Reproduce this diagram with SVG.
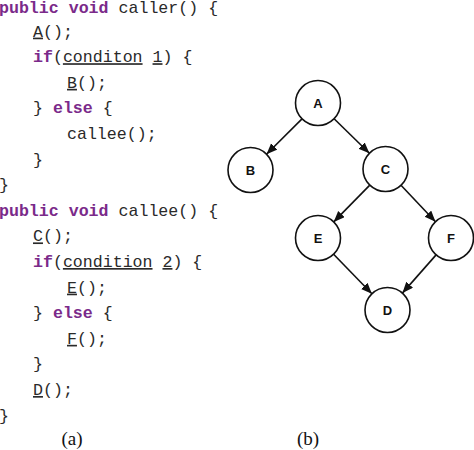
<svg xmlns="http://www.w3.org/2000/svg" width="474" height="450" viewBox="0 0 474 450">
<defs>
<style>
.code{font-family:"Liberation Mono","Courier New",monospace;font-size:16.6px;fill:#2a2a2a;}
.kw{fill:#7b2a8a;font-weight:bold;}
.u{text-decoration:underline;}
.cap{font-family:"Liberation Serif","Times New Roman",serif;font-size:19px;fill:#111;}
.node circle{fill:#fff;stroke:#111;stroke-width:1.6;}
.node text{font-family:"Liberation Sans",Arial,sans-serif;font-weight:bold;font-size:13px;fill:#111;text-anchor:middle;}
.edge{stroke:#111;stroke-width:1.6;fill:none;marker-end:url(#arr);}
</style>
<marker id="arr" markerUnits="userSpaceOnUse" markerWidth="12" markerHeight="10" refX="11" refY="4.5" orient="auto">
<path d="M0,0 L11,4.5 L0,9 Z" fill="#111"/>
</marker>
</defs>
<g id="code">
<text class="code" x="-1" y="13"><tspan class="kw">public void</tspan> caller() {</text>
<text class="code" x="33" y="36.6"><tspan class="u">A</tspan>();</text>
<text class="code" x="33" y="62.2"><tspan class="kw">if</tspan>(<tspan class="u">conditon</tspan> <tspan class="u">1</tspan>) {</text>
<text class="code" x="67" y="87.8"><tspan class="u">B</tspan>();</text>
<text class="code" x="33" y="113.4">} <tspan class="kw">else</tspan> {</text>
<text class="code" x="67" y="139">callee();</text>
<text class="code" x="33" y="164.6">}</text>
<text class="code" x="-1" y="190.2">}</text>
<text class="code" x="-1" y="215.8"><tspan class="kw">public void</tspan> callee() {</text>
<text class="code" x="33" y="241.4"><tspan class="u">C</tspan>();</text>
<text class="code" x="33" y="267"><tspan class="kw">if</tspan>(<tspan class="u">condition</tspan> <tspan class="u">2</tspan>) {</text>
<text class="code" x="67" y="292.6"><tspan class="u">E</tspan>();</text>
<text class="code" x="33" y="318.2">} <tspan class="kw">else</tspan> {</text>
<text class="code" x="67" y="343.8"><tspan class="u">F</tspan>();</text>
<text class="code" x="33" y="369.4">}</text>
<text class="code" x="33" y="395"><tspan class="u">D</tspan>();</text>
<text class="code" x="-1" y="420.6">}</text>
</g>
<g id="connectors">
<line class="edge" x1="302" y1="118.9" x2="266.5" y2="154.2"/>
<line class="edge" x1="334.1" y1="118.7" x2="369.4" y2="153.3"/>
<line class="edge" x1="369.8" y1="185.1" x2="333.7" y2="221.9"/>
<line class="edge" x1="401" y1="185.3" x2="435.5" y2="221.7"/>
<line class="edge" x1="333.6" y1="254.2" x2="371.9" y2="293.8"/>
<line class="edge" x1="436.1" y1="254.9" x2="402.4" y2="293.1"/>
</g>
<g id="node-A" class="node"><circle cx="318" cy="103" r="22.5"/><text x="318" y="107.5">A</text></g>
<g id="node-B" class="node"><circle cx="250.5" cy="170" r="22.5"/><text x="250.5" y="174.5">B</text></g>
<g id="node-C" class="node"><circle cx="385.5" cy="169" r="22.5"/><text x="385.5" y="173.5">C</text></g>
<g id="node-E" class="node"><circle cx="318" cy="238" r="22.5"/><text x="318" y="242.5">E</text></g>
<g id="node-F" class="node"><circle cx="451" cy="238" r="22.5"/><text x="451" y="242.5">F</text></g>
<g id="node-D" class="node"><circle cx="387.5" cy="310" r="22.5"/><text x="387.5" y="314.5">D</text></g>
<text class="cap" x="72" y="445" text-anchor="middle">(a)</text>
<text class="cap" x="308" y="445" text-anchor="middle">(b)</text>
</svg>
